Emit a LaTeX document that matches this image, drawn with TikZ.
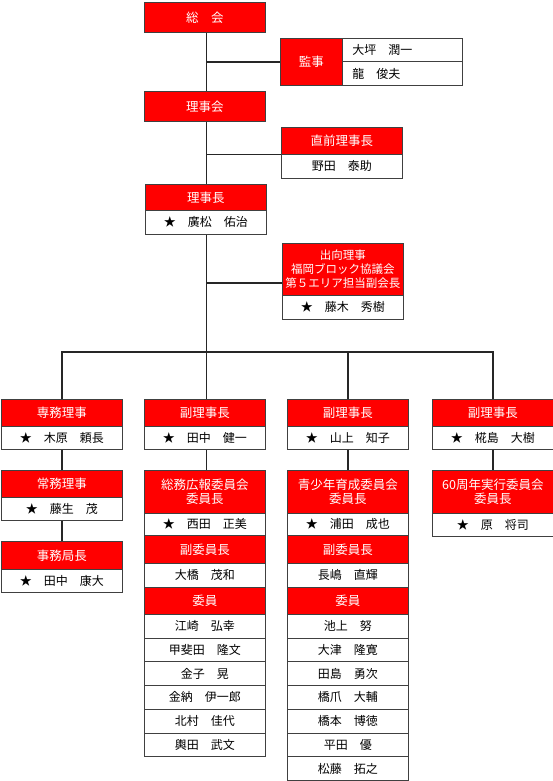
\documentclass[tikz,border=0pt]{standalone}
\usepackage{fontspec}
\newfontfamily\jp{Noto Sans CJK JP}
\usetikzlibrary{positioning}

\tikzset{
  head/.style={draw=black!75, line width=0.8pt, fill=red, text=white, anchor=north west,
    minimum width=121pt, minimum height=27pt, inner sep=0pt, align=center,
    font=\jp\fontsize{12.5pt}{14.5pt}\selectfont},
  cell/.style={draw=black!75, line width=0.8pt, fill=white, text=black, anchor=north west,
    minimum width=121pt, minimum height=24pt, inner sep=0pt,
    font=\jp\fontsize{12pt}{14.5pt}\selectfont},
  link/.style={line width=1.3pt, black!85}
}

\begin{document}
\begin{tikzpicture}[x=1pt, y=-1pt]
    \useasboundingbox (0,0) rectangle (553,781);

    % 上部
    \node[head, minimum height=30pt] (sokai) at (144,2) {総　会};
    \node[head, minimum width=62pt, minimum height=47pt] (kanji) at (280,38) {監事};
    \node[cell, minimum width=120pt, minimum height=23.5pt, text width=100pt, align=left] (kanjiA) at (342,38) {大坪　潤一};
    \node[cell, minimum width=120pt, minimum height=23.5pt, text width=100pt, align=left] (kanjiB) at (342,61.5) {龍　俊夫};
    \node[head, minimum height=30pt] (rijikai) at (144,91) {理事会};
    \node[head] (zenrijicho) at (281,127) {直前理事長};
    \node[cell] (zenrijichoA) at (281,154) {野田　泰助};
    \node[head, minimum height=26pt] (rijicho) at (145,184) {理事長};
    \node[cell] (rijichoA) at (145,210) {★　廣松　佑治};
    \node[head, minimum height=52pt, font=\jp\fontsize{11.5pt}{14pt}\selectfont] (shukko) at (282,243) {出向理事\\福岡ブロック協議会\\第５エリア担当副会長};
    \node[cell] (shukkoA) at (282,295) {★　藤木　秀樹};

    % 左列
    \node[head] (senmu) at (1,399) {専務理事};
    \node[cell, minimum height=23pt] (senmuA) at (1,426) {★　木原　頼長};
    \node[head] (jomu) at (1,470) {常務理事};
    \node[cell, minimum height=23pt] (jomuA) at (1,497) {★　藤生　茂};
    \node[head, minimum height=28pt] (jimu) at (1,541) {事務局長};
    \node[cell, minimum height=23pt] (jimuA) at (1,569) {★　田中　康大};

    % 総務広報委員会
    \node[head] (fukuA) at (144,399) {副理事長};
    \node[cell, minimum height=23pt] (fukuAn) at (144,426) {★　田中　健一};
    \node[head, minimum height=43pt] (somu) at (144,470) {総務広報委員会\\委員長};
    \node[cell, minimum height=22pt] (somuA) at (144,513) {★　西田　正美};
    \node[head, minimum height=28pt] (somuF) at (144,535) {副委員長};
    \node[cell] (somuFa) at (144,563) {大橋　茂和};
    \node[head] (somuI) at (144,587) {委員};
    \foreach \n [count=\i from 0] in {江崎　弘幸, 甲斐田　隆文, 金子　晃, 金納　伊一郎, 北村　佳代, 輿田　武文}
        \node[cell, minimum height=23.7pt] (somuI\i) at (144,614+23.7*\i) {\n};

    % 青少年育成委員会
    \node[head] (fukuB) at (287,399) {副理事長};
    \node[cell, minimum height=23pt] (fukuBn) at (287,426) {★　山上　知子};
    \node[head, minimum height=43pt] (seisho) at (287,470) {青少年育成委員会\\委員長};
    \node[cell, minimum height=22pt] (seishoA) at (287,513) {★　浦田　成也};
    \node[head, minimum height=28pt] (seishoF) at (287,535) {副委員長};
    \node[cell] (seishoFa) at (287,563) {長嶋　直輝};
    \node[head] (seishoI) at (287,587) {委員};
    \foreach \n [count=\i from 0] in {池上　努, 大津　隆寛, 田島　勇次, 橋爪　大輔, 橋本　博徳, 平田　優, 松藤　拓之}
        \node[cell, minimum height=23.7pt] (seishoI\i) at (287,614+23.7*\i) {\n};

    % 60周年実行委員会
    \node[head] (fukuC) at (432,399) {副理事長};
    \node[cell, minimum height=23pt] (fukuCn) at (432,426) {★　椛島　大樹};
    \node[head, minimum height=43pt] (shunen) at (432,470) {60周年実行委員会\\委員長};
    \node[cell, minimum height=23pt] (shunenA) at (432,513) {★　原　将司};

    % 接続線
    \coordinate (trunk) at (206.5,2);
    \coordinate (bus) at (206.5,352);
    \draw[link] (sokai.south -| trunk) -- (rijikai.north -| trunk);
    \draw[link] (trunk |- kanji.west) -- (kanji.west);
    \draw[link] (rijikai.south -| trunk) -- (rijicho.north -| trunk);
    \draw[link] (trunk |- zenrijicho.south) -- (zenrijicho.south west);
    \draw[link] (rijichoA.south -| trunk) -- (bus) -- (fukuA.north -| trunk);
    \draw[link] (trunk |- 0,283) -- (shukko.west |- 0,283);
    \draw[link] (senmu.north) |- (bus) -| (fukuC.north);
    \draw[link] (fukuB.north) -- (fukuB.north |- bus);
    \draw[link] (senmuA.south) -- (jomu.north);
    \draw[link] (jomuA.south) -- (jimu.north);
    \draw[link] (fukuAn.south -| trunk) -- (somu.north -| trunk);
    \draw[link] (fukuBn.south) -- (seisho.north);
    \draw[link] (fukuCn.south) -- (shunen.north);
\end{tikzpicture}
\end{document}
